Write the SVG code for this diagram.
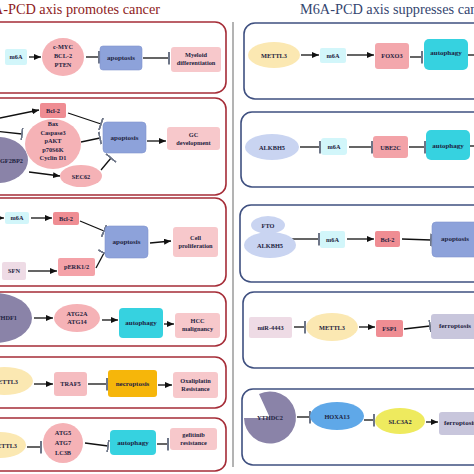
<svg xmlns="http://www.w3.org/2000/svg" width="474" height="474" viewBox="0 0 474 474">
<style>
.t{font-family:"Liberation Serif","Times New Roman",serif;font-weight:bold;font-size:6.3px;fill:#1d2240;text-anchor:middle}
.tl{font-size:7px}
.ttl{font-family:"Liberation Serif","Times New Roman",serif;font-size:14.3px}
.lbox{fill:none;stroke:#A52C37;stroke-width:1.6}
.rbox{fill:none;stroke:#3F5080;stroke-width:1.6}
.ln{stroke:#111;stroke-width:1.3;fill:none}
.arr{marker-end:url(#ah)}
.tee{marker-end:url(#tb)}
.m6a{fill:#D2F6FA}
.pk{fill:#F5B2B6}
.out{fill:#F7C8CB}
.red{fill:#EF8D93}
.apo{fill:#8DA2DA;stroke:#7F94CF;stroke-width:0.6}
.aut{fill:#36D2E0}
.fer{fill:#C8C6DC}
.pur{fill:#8A83A8}
.yel{fill:#FBE8B2}
.lav{fill:#C9D4F1}
.sfn{fill:#EEDBE5}
</style>
<defs>
<marker id="ah" markerUnits="userSpaceOnUse" markerWidth="7" markerHeight="6" refX="7" refY="3" orient="auto" viewBox="0 0 7 6"><path d="M0,0 L7,3 L0,6 z" fill="#111"/></marker>
<marker id="tb" markerUnits="userSpaceOnUse" markerWidth="2" markerHeight="13" refX="1" refY="6.5" orient="auto" viewBox="0 0 2 13"><rect x="0" y="0" width="2" height="13" fill="#6E7688"/></marker>
</defs>
<rect width="474" height="474" fill="#fff"/>

<g id="titles">
<text class="ttl" x="-27" y="14" fill="#8E1B22">M6A-PCD axis promotes cancer</text>
<text class="ttl" x="300" y="14" fill="#34456F">M6A-PCD axis suppresses cancer</text>
</g>
<line id="divider" x1="233" y1="22" x2="233" y2="467" stroke="#9A9A9A" stroke-width="1.5"/>

<g id="panels">
<rect class="lbox" x="-15" y="22" width="241" height="71" rx="11"/>
<rect class="lbox" x="-15" y="98" width="241" height="97" rx="11"/>
<rect class="lbox" x="-15" y="198" width="241" height="88" rx="11"/>
<rect class="lbox" x="-15" y="292" width="241" height="54" rx="11"/>
<rect class="lbox" x="-15" y="357" width="241" height="51" rx="11"/>
<rect class="lbox" x="-15" y="418" width="241" height="53" rx="11"/>
<rect class="rbox" x="244" y="23" width="250" height="76" rx="11"/>
<rect class="rbox" x="241" y="112" width="250" height="75" rx="11"/>
<rect class="rbox" x="240" y="205" width="250" height="77" rx="11"/>
<rect class="rbox" x="243" y="292" width="250" height="76" rx="11"/>
<rect class="rbox" x="242" y="389" width="250" height="76" rx="11"/>
</g>

<g id="connectors">
<line class="ln arr" x1="29" y1="57" x2="41" y2="57"/>
<line class="ln tee" x1="86" y1="57" x2="99" y2="57"/>
<line class="ln tee" x1="143" y1="58" x2="169" y2="58"/>

<line class="ln arr" x1="-5" y1="119" x2="39" y2="110"/>
<line class="ln tee" x1="-5" y1="131" x2="22" y2="134"/>
<line class="ln tee" x1="68" y1="113" x2="101" y2="124"/>
<line class="ln tee" x1="81" y1="142" x2="100" y2="138"/>
<line class="ln tee" x1="101" y1="170" x2="111" y2="158"/>
<line class="ln arr" x1="29" y1="172" x2="60" y2="176"/>
<line class="ln arr" x1="147" y1="141" x2="166" y2="141"/>

<line class="ln arr" x1="-10" y1="218" x2="4" y2="218"/>
<line class="ln arr" x1="31" y1="218" x2="52" y2="218"/>
<line class="ln tee" x1="80" y1="221" x2="104" y2="231"/>
<line class="ln tee" x1="96" y1="268" x2="104" y2="253"/>
<line class="ln arr" x1="28" y1="271" x2="57" y2="271"/>
<line class="ln arr" x1="150" y1="243" x2="171" y2="241"/>

<line class="ln arr" x1="34" y1="318" x2="53" y2="318"/>
<line class="ln arr" x1="102" y1="320" x2="118" y2="320"/>
<line class="ln arr" x1="164" y1="324" x2="174" y2="324"/>

<line class="ln arr" x1="34" y1="384" x2="53" y2="384"/>
<line class="ln tee" x1="88" y1="384" x2="107" y2="384"/>
<line class="ln arr" x1="158" y1="385" x2="172" y2="385"/>

<line class="ln tee" x1="27" y1="447" x2="41" y2="447"/>
<line class="ln tee" x1="85" y1="443" x2="108" y2="446"/>
<line class="ln tee" x1="157" y1="444" x2="168" y2="444"/>

<line class="ln arr" x1="301" y1="55" x2="319" y2="55"/>
<line class="ln arr" x1="347" y1="55" x2="374" y2="55"/>
<line class="ln tee" x1="410" y1="57" x2="422" y2="57"/>
<line class="ln" x1="468" y1="55" x2="476" y2="55"/>

<line class="ln tee" x1="300" y1="147" x2="320" y2="147"/>
<line class="ln tee" x1="349" y1="147" x2="372" y2="147"/>
<line class="ln tee" x1="409" y1="147" x2="425" y2="147"/>
<line class="ln" x1="470" y1="146" x2="476" y2="146"/>

<line class="ln tee" x1="290" y1="239" x2="319" y2="239"/>
<line class="ln arr" x1="347" y1="239" x2="374" y2="239"/>
<line class="ln tee" x1="402" y1="239" x2="431" y2="240"/>

<line class="ln tee" x1="294" y1="327" x2="305" y2="327"/>
<line class="ln arr" x1="359" y1="327" x2="375" y2="327"/>
<line class="ln tee" x1="404" y1="329" x2="430" y2="326"/>

<line class="ln tee" x1="297" y1="417" x2="310" y2="417"/>
<line class="ln tee" x1="364" y1="420" x2="374" y2="420"/>
<line class="ln arr" x1="426" y1="422" x2="438" y2="422"/>
</g>

<!-- Left row 1 -->
<g id="L1-m6a"><rect class="m6a" x="5" y="49" width="22" height="16" rx="2"/><text class="t" x="16" y="59">m6A</text></g>
<g id="L1-genes"><ellipse class="pk" cx="63" cy="57" rx="21" ry="19"/><text class="t" x="63" y="49">c-MYC</text><text class="t" x="63" y="58">BCL-2</text><text class="t" x="63" y="67">PTEN</text></g>
<g id="L1-apoptosis"><rect class="apo" x="100" y="46" width="42" height="24" rx="3"/><text class="t tl" x="121" y="60">apoptosis</text></g>
<g id="L1-myeloid"><rect class="out" x="171" y="47" width="50" height="25" rx="3"/><text class="t" x="196" y="57">Myeloid</text><text class="t" x="196" y="65">differentiation</text></g>

<!-- Left row 2 -->
<g id="L2-igf2bp2"><ellipse class="pur" cx="-2" cy="160" rx="30" ry="23"/><text class="t" x="23" y="163" style="text-anchor:end">IGF2BP2</text></g>
<g id="L2-bcl2"><rect class="red" x="40" y="103" width="26" height="15" rx="2"/><text class="t" x="53" y="113">Bcl-2</text></g>
<g id="L2-genes"><ellipse class="pk" cx="53" cy="144" rx="28" ry="25"/><text class="t" x="53" y="126">Bax</text><text class="t" x="53" y="134.5">Caspase3</text><text class="t" x="53" y="143">pAKT</text><text class="t" x="53" y="151.5">p70S6K</text><text class="t" x="53" y="160">Cyclin D1</text></g>
<g id="L2-sec62"><ellipse class="pk" cx="81" cy="176" rx="21" ry="11"/><text class="t" x="81" y="178.5">SEC62</text></g>
<g id="L2-apoptosis"><rect class="apo" x="103" y="122" width="43" height="31" rx="4"/><text class="t tl" x="124.5" y="140">apoptosis</text></g>
<g id="L2-gc"><rect class="out" x="167" y="127" width="53" height="23" rx="3"/><text class="t" x="193.5" y="137">GC</text><text class="t" x="193.5" y="145">development</text></g>

<!-- Left row 3 -->
<g id="L3-m6a"><rect class="m6a" x="5" y="212" width="24" height="12" rx="2"/><text class="t" x="17" y="220">m6A</text></g>
<g id="L3-bcl2"><rect class="red" x="53" y="212" width="26" height="13" rx="2"/><text class="t" x="66" y="220.5">Bcl-2</text></g>
<g id="L3-sfn"><rect class="sfn" x="2" y="262" width="24" height="18" rx="2"/><text class="t" x="14" y="273">SFN</text></g>
<g id="L3-perk"><rect class="red" x="58" y="258" width="37" height="18" rx="2" style="fill:#F4A2A8"/><text class="t" x="76.5" y="269">pERK1/2</text></g>
<g id="L3-apoptosis"><rect class="apo" x="105" y="226" width="43" height="32" rx="4"/><text class="t tl" x="126.5" y="244">apoptosis</text></g>
<g id="L3-cell"><rect class="out" x="173" y="227" width="45" height="30" rx="3"/><text class="t" x="195.5" y="240">Cell</text><text class="t" x="195.5" y="248">proliferation</text></g>

<!-- Left row 4 -->
<g id="L4-ythdf1"><ellipse class="pur" cx="-5" cy="318" rx="37" ry="25"/><text class="t" x="17" y="320" style="text-anchor:end">YTHDF1</text></g>
<g id="L4-atg"><ellipse class="pk" cx="77" cy="318" rx="23" ry="14"/><text class="t" x="77" y="316">ATG2A</text><text class="t" x="77" y="324">ATG14</text></g>
<g id="L4-autophagy"><rect class="aut" x="119" y="308" width="44" height="30" rx="4"/><text class="t tl" x="141" y="325">autophagy</text></g>
<g id="L4-hcc"><rect class="out" x="175" y="313" width="45" height="25" rx="3"/><text class="t" x="197.5" y="323">HCC</text><text class="t" x="197.5" y="331">malignancy</text></g>

<!-- Left row 5 -->
<g id="L5-mettl3"><ellipse class="yel" cx="4" cy="381" rx="29" ry="14"/><text class="t" x="18" y="384" style="text-anchor:end">METTL3</text></g>
<g id="L5-traf5"><rect class="out" x="54" y="372" width="33" height="24" rx="3" style="fill:#F5BCC0"/><text class="t" x="70.5" y="386">TRAF5</text></g>
<g id="L5-necroptosis"><rect x="108" y="370" width="49" height="27" rx="3" fill="#F6B60A"/><text class="t tl" x="132.5" y="386">necroptosis</text></g>
<g id="L5-oxali"><rect class="out" x="173" y="372" width="45" height="26" rx="3"/><text class="t" x="195.5" y="383">Oxaliplatin</text><text class="t" x="195.5" y="391">Resistance</text></g>

<!-- Left row 6 -->
<g id="L6-mettl3"><ellipse class="yel" cx="0" cy="445" rx="26" ry="13"/><text class="t" x="17" y="447.5" style="text-anchor:end">METTL3</text></g>
<g id="L6-atg"><ellipse class="pk" cx="63" cy="443" rx="20" ry="20"/><text class="t" x="63" y="435">ATG5</text><text class="t" x="63" y="445">ATG7</text><text class="t" x="63" y="455">LC3B</text></g>
<g id="L6-autophagy"><rect class="aut" x="110" y="430" width="46" height="25" rx="4"/><text class="t tl" x="133" y="445">autophagy</text></g>
<g id="L6-gefitinib"><rect class="out" x="170" y="428" width="47" height="22" rx="3"/><text class="t" x="193.5" y="437">gefitinib</text><text class="t" x="193.5" y="445">resistance</text></g>

<!-- Right row 1 -->
<g id="R1-mettl3"><ellipse class="yel" cx="274" cy="55" rx="26" ry="13"/><text class="t" x="274" y="57.5">METTL3</text></g>
<g id="R1-m6a"><rect class="m6a" x="320" y="48" width="26" height="15" rx="2"/><text class="t" x="333" y="58">m6A</text></g>
<g id="R1-foxo3"><rect class="red" x="375" y="43" width="34" height="26" rx="3" style="fill:#F3A7AC"/><text class="t" x="392" y="58">FOXO3</text></g>
<g id="R1-autophagy"><rect class="aut" x="424" y="39" width="44" height="31" rx="5"/><text class="t tl" x="446" y="55">autophagy</text></g>

<!-- Right row 2 -->
<g id="R2-alkbh5"><ellipse class="lav" cx="272" cy="147" rx="27" ry="13"/><text class="t" x="272" y="149.5">ALKBH5</text></g>
<g id="R2-m6a"><rect class="m6a" x="321" y="138" width="26" height="17" rx="3"/><text class="t" x="334" y="149">m6A</text></g>
<g id="R2-ube2c"><rect class="red" x="373" y="136" width="35" height="22" rx="3" style="fill:#F3A3A8"/><text class="t" x="390.5" y="149.5">UBE2C</text></g>
<g id="R2-autophagy"><rect class="aut" x="426" y="130" width="44" height="30" rx="5"/><text class="t tl" x="448" y="148">autophagy</text></g>

<!-- Right row 3 -->
<g id="R3-fto"><ellipse class="lav" cx="268" cy="225" rx="17" ry="9"/><text class="t" x="268" y="227.5">FTO</text></g>
<g id="R3-alkbh5"><ellipse class="lav" cx="270" cy="245" rx="26" ry="13"/><text class="t" x="270" y="247.5">ALKBH5</text></g>
<g id="R3-m6a"><rect class="m6a" x="320" y="231" width="25" height="17" rx="2"/><text class="t" x="332.5" y="242">m6A</text></g>
<g id="R3-bcl2"><rect class="red" x="375" y="231" width="25" height="16" rx="2"/><text class="t" x="387.5" y="241.5">Bcl-2</text></g>
<g id="R3-apoptosis"><rect class="apo" x="432" y="222" width="48" height="35" rx="4"/><text class="t tl" x="455" y="241">apoptosis</text></g>

<!-- Right row 4 -->
<g id="R4-mir"><rect class="sfn" x="249" y="317" width="43" height="21" rx="2"/><text class="t" x="270.5" y="329.5">miR-4443</text></g>
<g id="R4-mettl3"><ellipse class="yel" cx="332" cy="327" rx="26" ry="14"/><text class="t" x="332" y="329.5">METTL3</text></g>
<g id="R4-fsp1"><rect class="red" x="376" y="320" width="27" height="17" rx="2"/><text class="t" x="389.5" y="331">FSP1</text></g>
<g id="R4-ferroptosis"><rect class="fer" x="431" y="314" width="50" height="25" rx="3"/><text class="t tl" x="455" y="328">ferroptosis</text></g>

<!-- Right row 5 -->
<g id="R5-ythdc2"><path class="pur" d="M270,418 L259,394 A26,26 0 1 1 244,418 Z"/><text class="t" x="270" y="419.5">YTHDC2</text></g>
<g id="R5-hoxa13"><ellipse cx="337" cy="416" rx="27" ry="14" fill="#5FA8E8"/><text class="t" x="337" y="418.5">HOXA13</text></g>
<g id="R5-slc3a2"><ellipse cx="400" cy="421" rx="25" ry="13" fill="#EEEA5E"/><text class="t" x="400" y="423.5">SLC3A2</text></g>
<g id="R5-ferroptosis"><rect class="fer" x="439" y="412" width="45" height="23" rx="3"/><text class="t tl" x="460" y="425">ferroptosis</text></g>
</svg>
